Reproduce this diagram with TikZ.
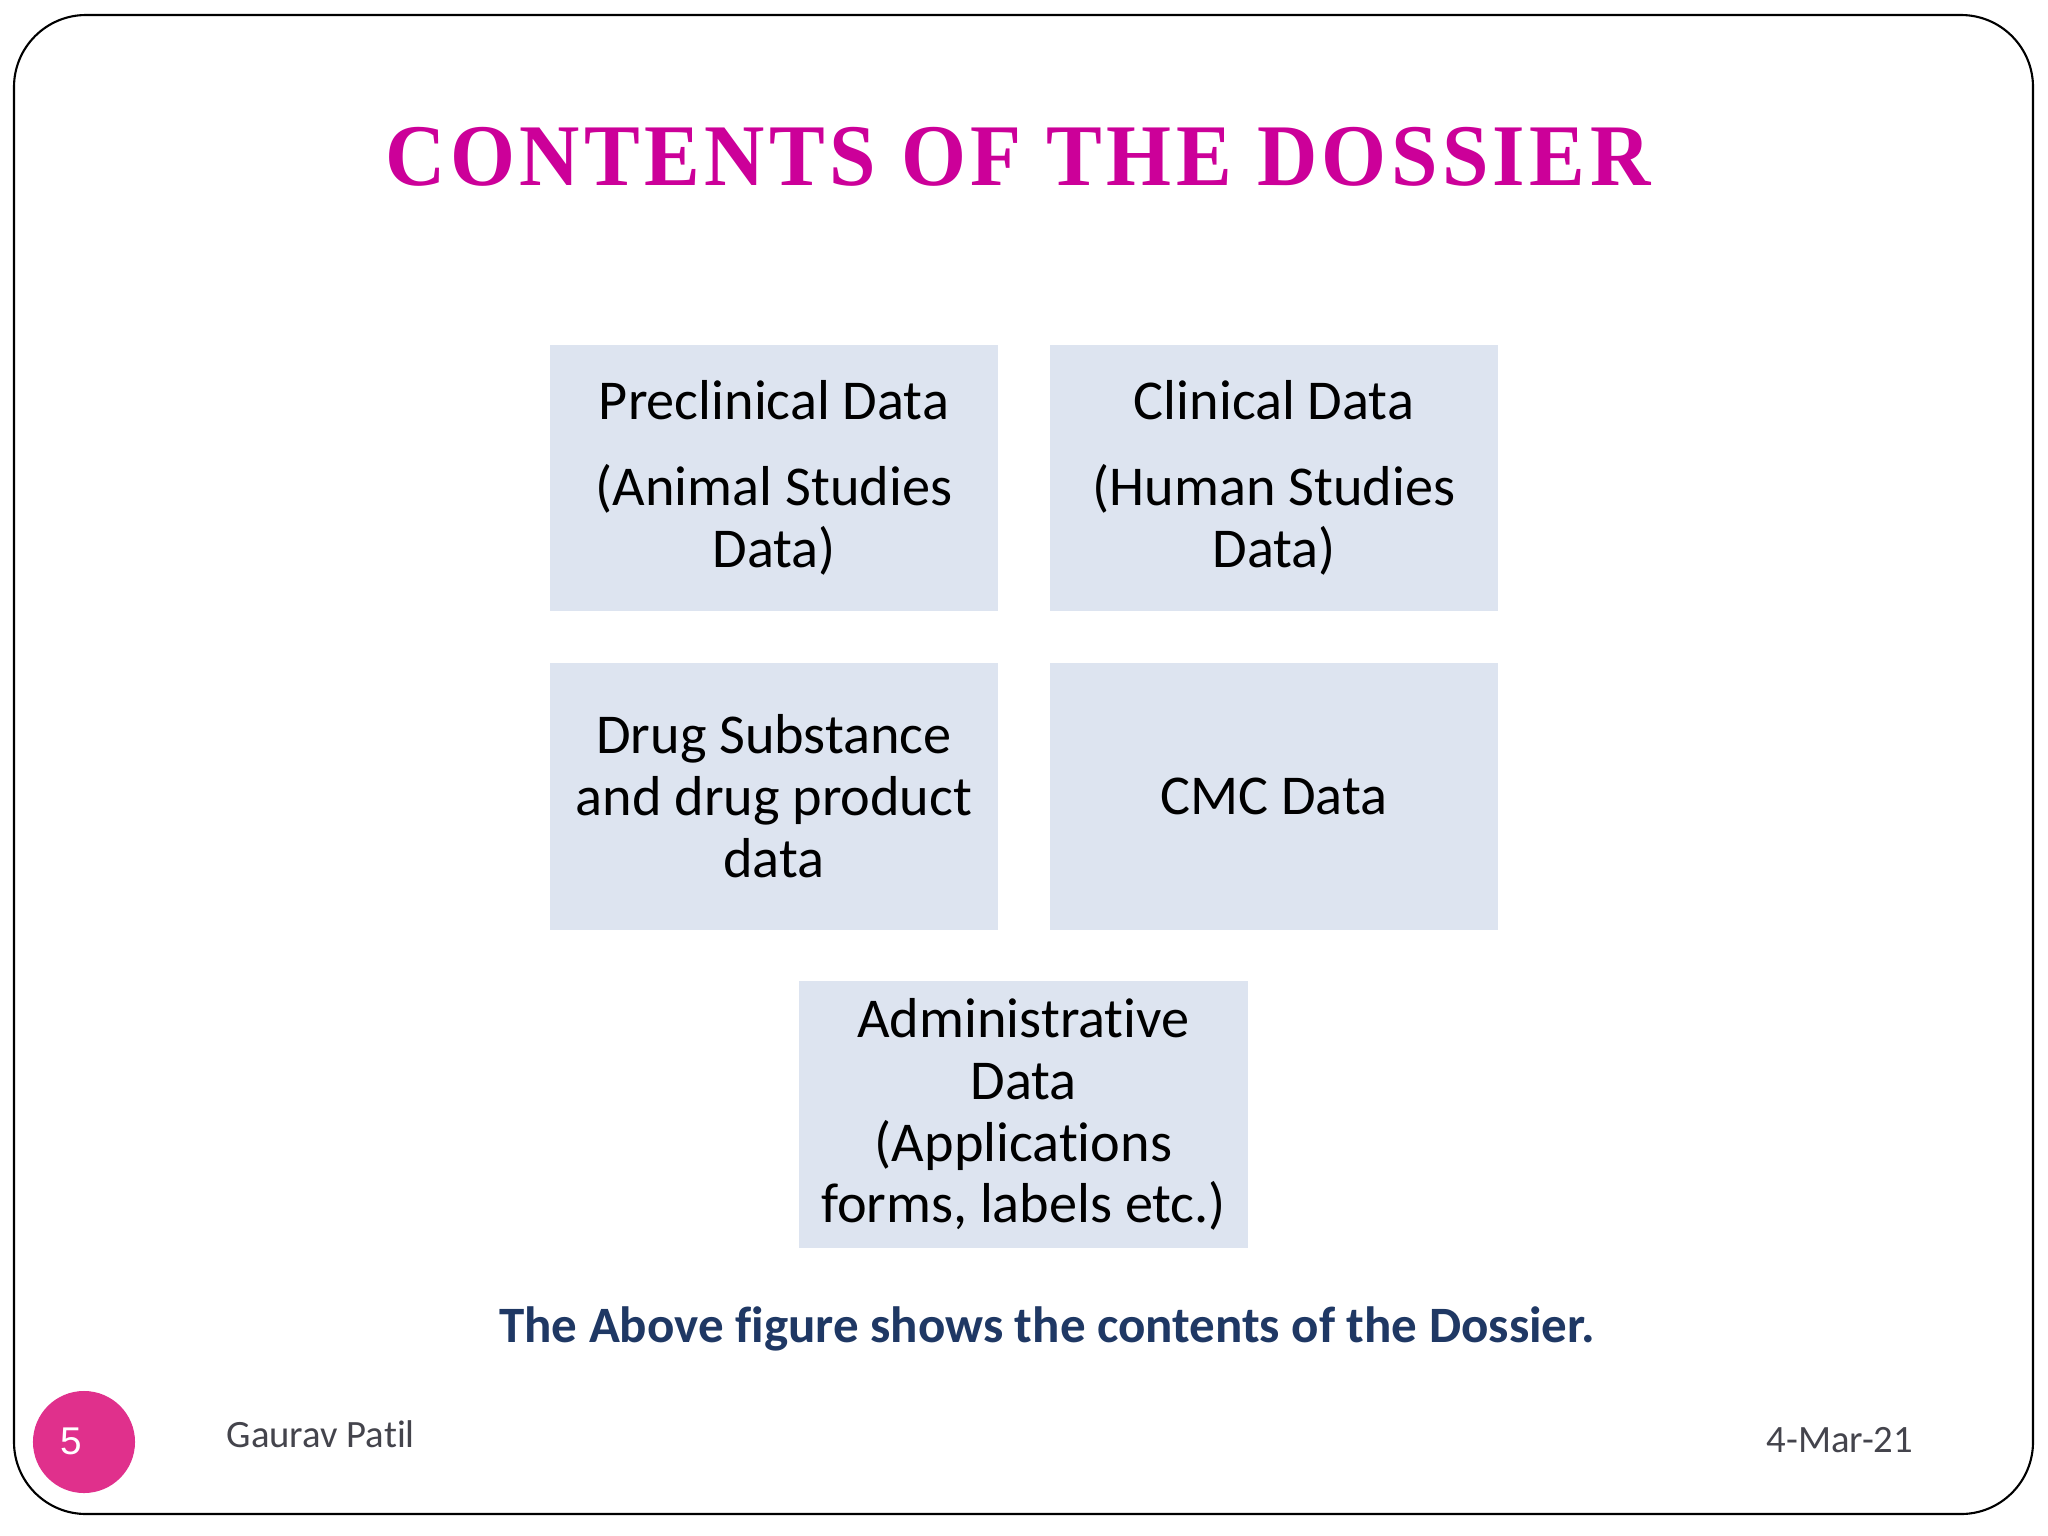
\documentclass[tikz,border=0pt]{standalone}
\usepackage{fontspec}
\setmainfont[RawFeature={-liga;-clig;-calt;-dlig}]{Carlito}
\newfontfamily\titlefont[LetterSpace=5,FakeStretch=0.95]{Liberation Serif}
\newfontfamily\arialfont{Liberation Sans}
\definecolor{titlemag}{RGB}{204,0,153}
\definecolor{boxfill}{RGB}{221,228,240}
\definecolor{capnavy}{RGB}{31,56,100}
\definecolor{circpink}{RGB}{224,48,140}
\definecolor{footgray}{RGB}{68,68,76}
\tikzset{
  databox/.style={fill=boxfill, draw=none, minimum width=4.48cm, minimum height=2.66cm,
    align=center, inner sep=0pt, text=black, font={\fontsize{16}{17.6}\selectfont}},
  foot/.style={text=footgray, font={\fontsize{11}{13}\selectfont}, inner sep=0pt}
}
\begin{document}
\begin{tikzpicture}[x=0.01cm,y=-0.01cm]
\useasboundingbox (0,0) rectangle (2048,1536);
\fill[white] (0,0) rectangle (2048,1536);
\draw[line width=0.6pt, rounded corners=0.72cm] (14,15) rectangle (2033,1514);
\node[anchor=base, inner sep=0pt, text=titlemag, font={\titlefont\bfseries\fontsize{25}{30}\selectfont}] (title) at (1018,185) {CONTENTS OF THE DOSSIER};
\node[databox] (pre) at (774,478) {Preclinical Data\\[7pt](Animal Studies\\Data)};
\node[databox] (cli) at (1274,478) {Clinical Data\\[7pt](Human Studies\\Data)};
\node[databox] (drug) at (774,796.5) {Drug Substance\\and drug product\\data};
\node[databox] (cmc) at (1274,796.5) {CMC Data};
\node[databox] (adm) at (1023.5,1114.5) {Administrative\\Data\\(Applications\\forms, labels etc.)};
\node[anchor=base, inner sep=0pt, text=capnavy, font={\bfseries\fontsize{14.5}{17}\selectfont}] (cap) at (1047,1342) {The Above figure shows the contents of the Dossier.};
\node[circle, fill=circpink, minimum size=1.02cm, inner sep=0pt] (num) at (84,1442) {};
\node[anchor=base, inner sep=0pt, text=white, font={\arialfont\fontsize{11}{13}\selectfont}] (numtxt) at (71,1454) {5};
\node[foot, anchor=base west] (author) at (226,1447) {Gaurav Patil};
\node[foot, anchor=base west] (date) at (1766,1452) {4-Mar-21};
\end{tikzpicture}
\end{document}
